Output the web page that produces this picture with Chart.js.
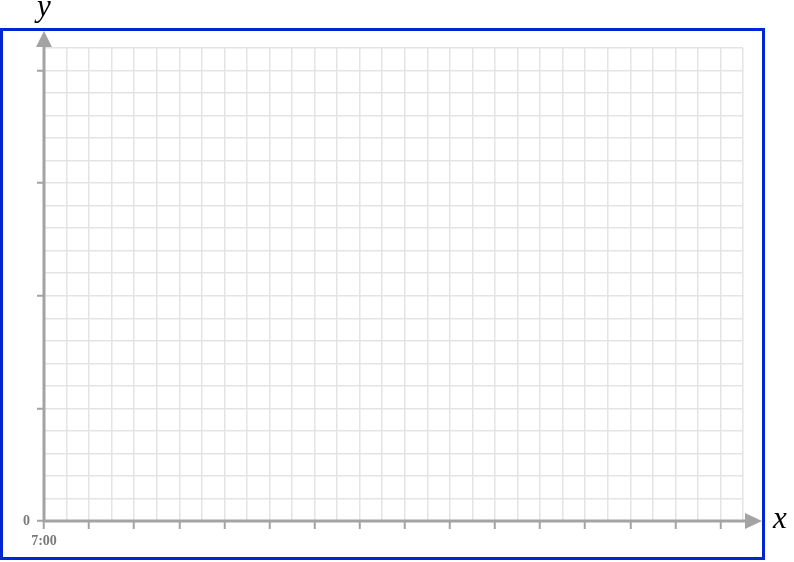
<!DOCTYPE html>
<html>
<head>
<meta charset="utf-8">
<script src="https://cdn.jsdelivr.net/npm/chart.js@4"></script>
<style>
    body { margin: 0; background: #fff; }
    #wrap { position: relative; width: 794px; height: 562px; overflow: hidden; }
    #frame { position: absolute; left: 0; top: 28px; width: 759px; height: 526px; border: 3px solid #0026d4; }
    .axisName { position: absolute; font-family: "Liberation Serif", serif; font-style: italic; font-size: 31px; line-height: 31px; color: #000; }
    #yName { left: 37px; top: -10px; }
    #xName { left: 773px; top: 502px; }
    canvas { position: absolute; left: 0; top: 0; }
</style>
</head>
<body>
<div id="wrap">
    <div id="frame"></div>
    <canvas id="chart" width="794" height="562"></canvas>
    <span class="axisName" id="yName">y</span>
    <span class="axisName" id="xName">x</span>
</div>
<script>
// grid is 31 squares across, 21 squares up; no points plotted
const xRange = [0, 31];
const yRange = [0, 21];
const xTickEvery = 2;
const yTickEvery = 5;
const xTickLabels = ['7:00'];   // label at each tick from the origin
const yTickLabels = ['0'];
const points = [];

const axisGrey = '#a3a3a3';
const gridGrey = '#e4e4e4';
const labelFont = { family: 'Liberation Serif', size: 14, weight: 'bold' };

// axis lines with arrow heads, drawn past the chart area
const arrowAxes = {
    id: 'arrowAxes',
    afterDraw(chart) {
        const { ctx, chartArea: a } = chart;
        ctx.save();
        ctx.strokeStyle = axisGrey;
        ctx.fillStyle = axisGrey;
        ctx.lineWidth = 3;
        ctx.beginPath();
        ctx.moveTo(a.left, a.bottom + 1);
        ctx.lineTo(a.left, a.top - 6);
        ctx.moveTo(a.left - 1, a.bottom);
        ctx.lineTo(a.right + 6, a.bottom);
        ctx.stroke();

        ctx.beginPath();
        ctx.moveTo(a.left, a.top - 17);
        ctx.lineTo(a.left - 8, a.top - 1);
        ctx.lineTo(a.left + 8, a.top - 1);
        ctx.closePath();
        ctx.fill();

        ctx.beginPath();
        ctx.moveTo(a.right + 19, a.bottom);
        ctx.lineTo(a.right + 2, a.bottom - 8);
        ctx.lineTo(a.right + 2, a.bottom + 8);
        ctx.closePath();
        ctx.fill();
        ctx.restore();
    }
};

function tickMarkColor(every) {
    return function (c) {
        if (!c.tick) return 'rgba(0,0,0,0)';
        return c.tick.value % every === 0 ? axisGrey : 'rgba(0,0,0,0)';
    };
}

function gridColor(c) {
    if (c.tick && c.tick.value === 0) return 'rgba(0,0,0,0)';
    return gridGrey;
}

new Chart(document.getElementById('chart'), {
    type: 'scatter',
    data: { datasets: [{ data: points }] },
    options: {
        responsive: false,
        animation: false,
        devicePixelRatio: 1,
        layout: { padding: { left: 0, top: 48, right: 51, bottom: 0 } },
        plugins: { legend: { display: false }, tooltip: { enabled: false } },
        scales: {
            x: {
                min: xRange[0],
                max: xRange[1],
                border: { display: false },
                grid: {
                    color: gridColor,
                    lineWidth: 1.5,
                    drawTicks: true,
                    tickLength: 8,
                    tickWidth: 2,
                    tickColor: tickMarkColor(xTickEvery)
                },
                ticks: {
                    stepSize: 1,
                    autoSkip: false,
                    maxRotation: 0,
                    padding: 4,
                    color: '#7a7a7a',
                    font: labelFont,
                    callback: function (v) {
                        if (v % xTickEvery !== 0) return '';
                        return xTickLabels[v / xTickEvery] || '';
                    }
                },
                afterFit(scale) { scale.height = 41; }
            },
            y: {
                min: yRange[0],
                max: yRange[1],
                border: { display: false },
                grid: {
                    color: gridColor,
                    lineWidth: 1.5,
                    drawTicks: true,
                    tickLength: 7,
                    tickWidth: 2,
                    tickColor: tickMarkColor(yTickEvery)
                },
                ticks: {
                    stepSize: 1,
                    autoSkip: false,
                    padding: 7,
                    color: '#7a7a7a',
                    font: labelFont,
                    callback: function (v) {
                        if (v % yTickEvery !== 0) return '';
                        return yTickLabels[v / yTickEvery] || '';
                    }
                },
                afterFit(scale) { scale.width = 44; }
            }
        }
    },
    plugins: [arrowAxes]
});
</script>
</body>
</html>
